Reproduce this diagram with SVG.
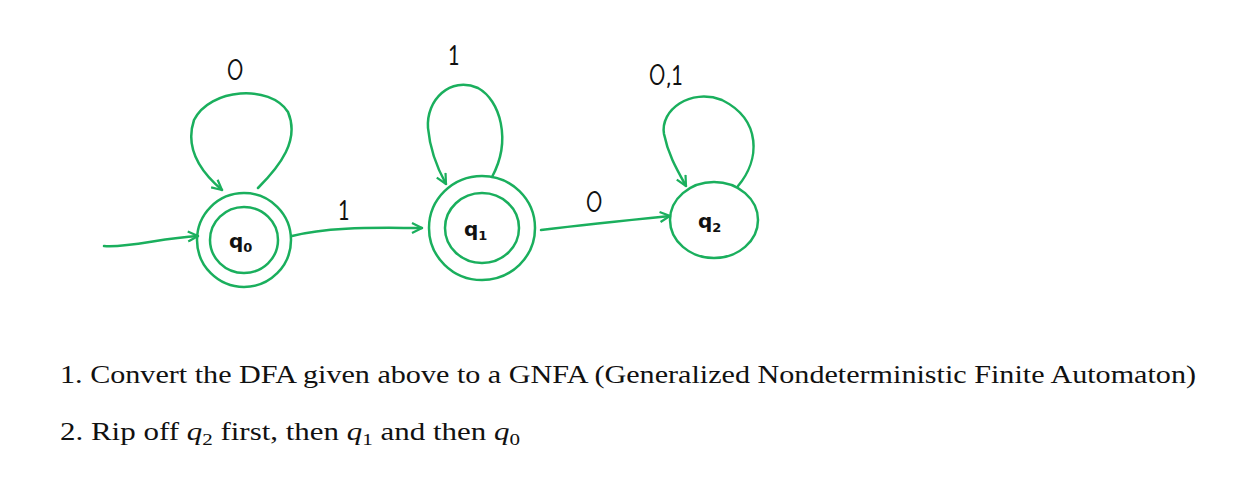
<svg xmlns="http://www.w3.org/2000/svg" width="1234" height="480" viewBox="0 0 1234 480">
<style>
.g{fill:none;stroke:#1aaf5d;stroke-width:2.5;stroke-linecap:round;stroke-linejoin:round}
.h{font-family:"Comic Neue","DejaVu Sans",sans-serif;font-size:30px;fill:#111}
.s{font-family:"DejaVu Sans",sans-serif;font-size:20px;font-weight:bold;fill:#111}
.t{font-family:"Liberation Serif",serif;font-size:25px;fill:#111}
</style>
<defs><marker id="a" viewBox="0 0 12 12" refX="11" refY="6" markerWidth="12" markerHeight="12" markerUnits="userSpaceOnUse" orient="auto"><path d="M1 1L11 6L1 11" fill="none" stroke="#1aaf5d" stroke-width="2.2"/></marker></defs>
<rect width="1234" height="480" fill="#fff"/>
<g id="q0"><ellipse class="g" cx="244" cy="240" rx="47" ry="47" stroke-width="3"/><ellipse class="g" cx="244" cy="240" rx="34" ry="33"/><text class="s" x="229" y="248">q<tspan font-size="13" dy="4">0</tspan></text></g>
<g id="q1"><ellipse class="g" cx="482" cy="228" rx="53" ry="52" stroke-width="3"/><ellipse class="g" cx="482" cy="228" rx="37" ry="35"/><text class="s" x="464" y="236">q<tspan font-size="13" dy="4">1</tspan></text></g>
<g id="q2"><ellipse class="g" cx="714" cy="220" rx="44" ry="38"/><text class="s" x="698" y="228">q<tspan font-size="13" dy="4">2</tspan></text></g>
<g id="connectors">
<path class="g" d="M104 246C130 248 160 238 198 236" marker-end="url(#a)"/>
<path class="g" d="M292 236C330 226 380 228 422 228" marker-end="url(#a)"/>
<path class="g" d="M541 230C590 224 630 220 670 216" marker-end="url(#a)"/>
<path class="g" d="M258 188C280 166 300 140 288 112C270 84 210 88 194 120C186 144 196 168 222 190" marker-end="url(#a)"/>
<path class="g" d="M492 177C512 140 500 100 478 88C450 76 426 100 428 128C430 150 436 166 446 184" marker-end="url(#a)"/>
<path class="g" d="M738 186C760 160 762 120 722 100C690 88 660 110 664 134C668 154 676 168 686 186" marker-end="url(#a)"/>
</g>
<g id="labels">
<text class="h" x="226" y="80">0</text>
<text class="h" x="448" y="65">1</text>
<text class="h" x="648" y="85">0,1</text>
<text class="h" x="338" y="220">1</text>
<text class="h" x="585" y="212">0</text>
</g>
<text class="t" x="60" y="383" textLength="1136" lengthAdjust="spacingAndGlyphs">1. Convert the DFA given above to a GNFA (Generalized Nondeterministic Finite Automaton)</text>
<text class="t" x="60" y="440" textLength="460" lengthAdjust="spacingAndGlyphs">2. Rip off <tspan font-style="italic">q</tspan><tspan font-size="17" dy="5">2</tspan><tspan dy="-5"> first, then </tspan><tspan font-style="italic">q</tspan><tspan font-size="17" dy="5">1</tspan><tspan dy="-5"> and then </tspan><tspan font-style="italic">q</tspan><tspan font-size="17" dy="5">0</tspan></text>
</svg>
